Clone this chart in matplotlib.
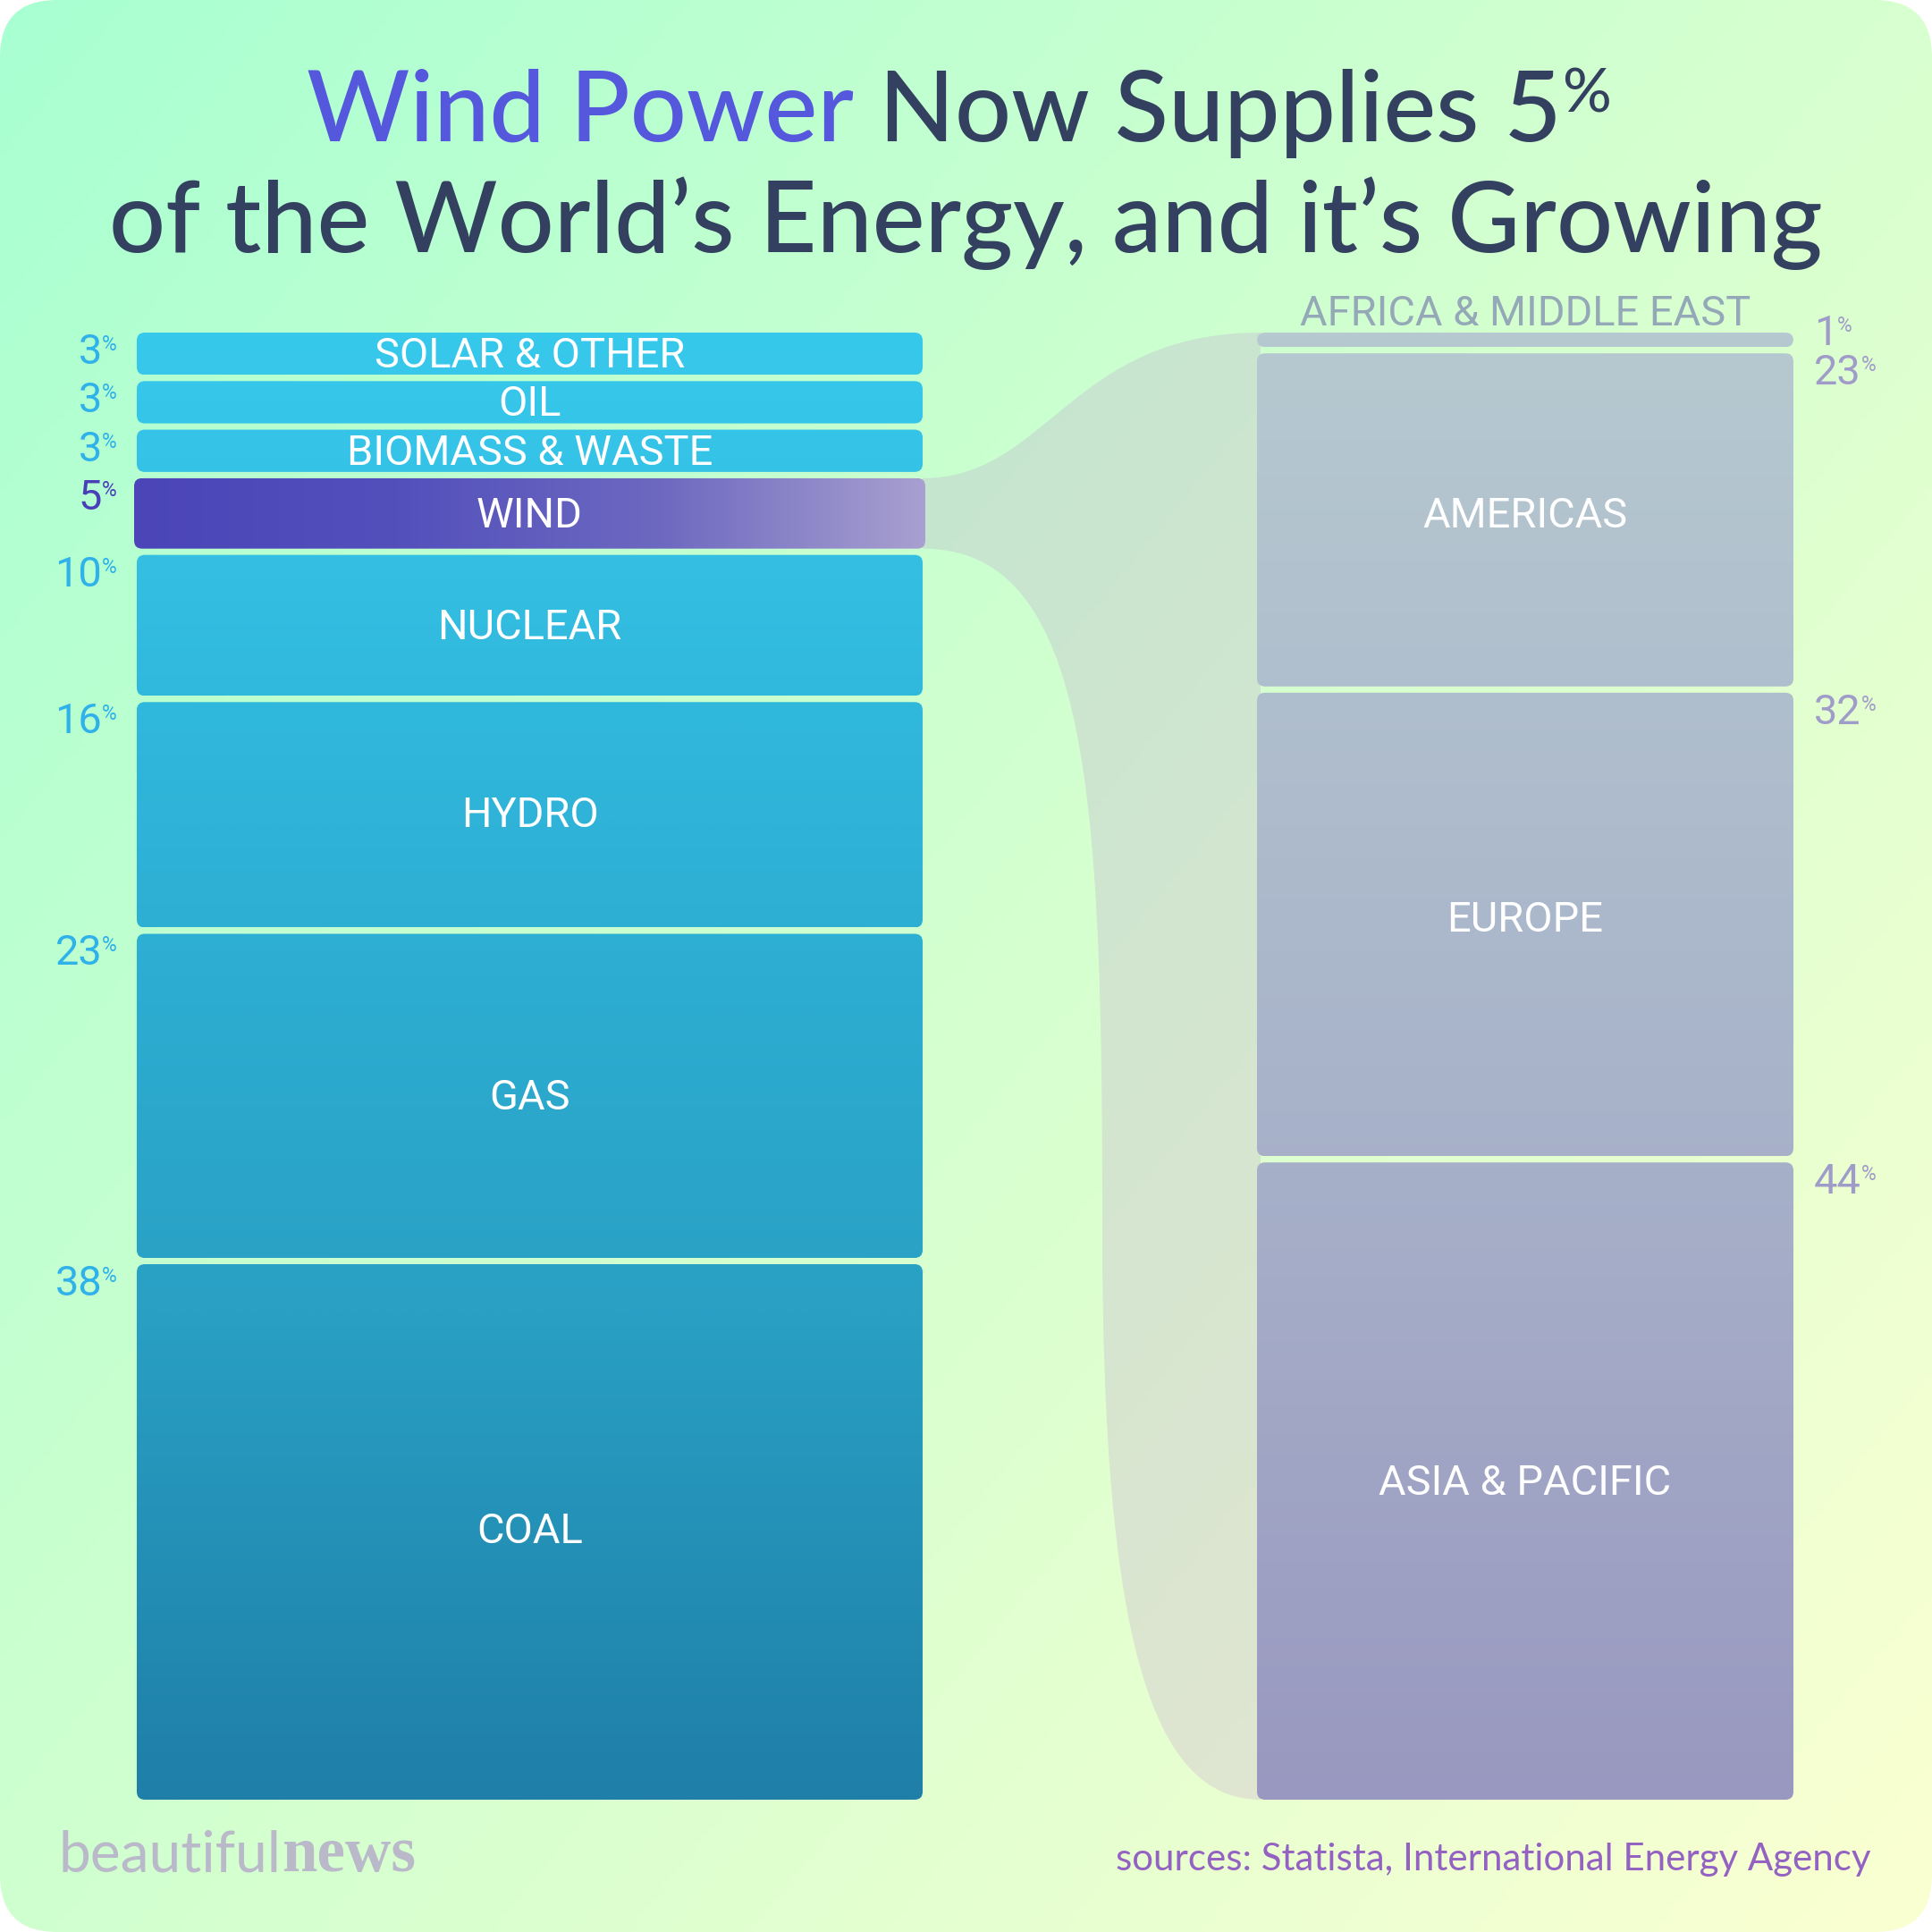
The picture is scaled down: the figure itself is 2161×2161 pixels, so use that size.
import numpy as np
import matplotlib
matplotlib.use("Agg")
import matplotlib.pyplot as plt
from matplotlib.colors import LinearSegmentedColormap
from matplotlib.patches import FancyBboxPatch, PathPatch
from matplotlib.path import Path

# Data
energy_labels = ["SOLAR & OTHER", "OIL", "BIOMASS & WASTE", "WIND", "NUCLEAR", "HYDRO", "GAS", "COAL"]
energy_shares = [3, 3, 3, 5, 10, 16, 23, 38]
region_labels = ["AFRICA & MIDDLE EAST", "AMERICAS", "EUROPE", "ASIA & PACIFIC"]
region_shares = [1, 23, 32, 44]

# Layout in pixels
W = 2161
TOP, BOTTOM = 372, 2013
GAP = 7
LEFT_X = (153, 1032)
RIGHT_X = (1406, 2006)
NARROW = "Roboto"
TITLE_FONT = "Lato"

bg_cmap = LinearSegmentedColormap.from_list("bg", ["#a8ffd2", "#d4ffcf", "#fbffd2"])
left_cmap = LinearSegmentedColormap.from_list("left", ["#37c9ec", "#2fb3d8", "#29a0c4", "#1f7fa8"])
right_cmap = LinearSegmentedColormap.from_list("right", ["#b6c9d0", "#a9b4ca", "#9998c0"])
wind_cmap = LinearSegmentedColormap.from_list("wind", ["#4b45b8", "#5350bc", "#6d69c0", "#a8a0d0"])


def px(size):
    return size * 72 / 100


# Tops and bottoms of a stack, from the shares
def stack(shares):
    scale = (BOTTOM - TOP - GAP * (len(shares) - 1)) / sum(shares)
    heights = np.array(shares) * scale
    tops = TOP + np.cumsum(np.r_[0, heights[:-1]]) + GAP * np.arange(len(shares))
    return tops, tops + heights


def gradient_box(x0, x1, y0, y1, cmap, t0=0, t1=1, horizontal=False, radius=9):
    box = FancyBboxPatch((x0, y0), x1 - x0, y1 - y0, boxstyle=f"round,pad=0,rounding_size={radius}",
                         fc="none", ec="none", zorder=3)
    ax.add_patch(box)
    g = np.linspace(t0, t1, 256)
    g = g.reshape(1, -1) if horizontal else g.reshape(-1, 1)
    im = ax.imshow(g, cmap=cmap, vmin=0, vmax=1, extent=(x0, x1, y1, y0), aspect="auto", zorder=3)
    im.set_clip_path(box)


fig = plt.figure(figsize=(W / 100, W / 100), dpi=100, facecolor="white")
ax = fig.add_axes([0, 0, 1, 1])
ax.axis("off")
renderer = fig.canvas.get_renderer()

# Background with round corners
bg_box = FancyBboxPatch((0, 0), W, W, boxstyle="round,pad=0,rounding_size=64", fc="none", ec="none")
ax.add_patch(bg_box)
xx, yy = np.meshgrid(np.linspace(0, 1, 300), np.linspace(0, 1, 300))
bg = ax.imshow(0.55 * xx + 0.45 * yy, cmap=bg_cmap, vmin=0, vmax=1, extent=(0, W, W, 0), aspect="auto", zorder=0)
bg.set_clip_path(bg_box)

left_tops, left_bottoms = stack(energy_shares)
right_tops, right_bottoms = stack(region_shares)
wind = energy_labels.index("WIND")

# Flow from the wind bar to the regions
fx0, fx1 = LEFT_X[1], RIGHT_X[0] + 4
wt, wb = left_tops[wind], left_bottoms[wind]
verts = [
    (fx0, wt),
    (fx0 + 140, wt), (fx0 + 165, TOP), (fx1, TOP),
    (fx1, BOTTOM),
    (fx0 + 256, BOTTOM), (fx0 + 201, BOTTOM - 180), (fx0 + 201, 1378),
    (fx0 + 201, 900), (fx0 + 190, wb), (fx0, wb),
    (fx0, wt),
]
codes = [Path.MOVETO, Path.CURVE4, Path.CURVE4, Path.CURVE4, Path.LINETO,
         Path.CURVE4, Path.CURVE4, Path.CURVE4, Path.CURVE4, Path.CURVE4, Path.CURVE4, Path.CLOSEPOLY]
ax.add_patch(PathPatch(Path(verts, codes), fc=(185 / 255, 125 / 255, 211 / 255), ec="none", alpha=0.2, zorder=1))

LABEL_SIZE = 47
CAP = 31
PCT_SIZE = 47
DIGIT = 35
label_nudge = {"AMERICAS": -7, "EUROPE": -7, "COAL": -3, "HYDRO": -2}


def pct_left(right_x, top, value, color):
    # small percent sign first, number to the left of it
    sign = ax.text(right_x, top + 20, "%", color=color, fontsize=px(23), family=NARROW,
                   ha="right", va="baseline", zorder=4)
    w = sign.get_window_extent(renderer).width
    ax.text(right_x - w, top + DIGIT, str(value), color=color, fontsize=px(PCT_SIZE), family=NARROW,
            ha="right", va="baseline", zorder=4)


def pct_right(left_x, top, value, color):
    num = ax.text(left_x, top + DIGIT, str(value), color=color, fontsize=px(PCT_SIZE), family=NARROW,
                  ha="left", va="baseline", zorder=4)
    w = num.get_window_extent(renderer).width
    ax.text(left_x + w, top + 20, "%", color=color, fontsize=px(23), family=NARROW,
            ha="left", va="baseline", zorder=4)


# Energy mix
span = BOTTOM - TOP
for label, share, y0, y1 in zip(energy_labels, energy_shares, left_tops, left_bottoms):
    if label == "WIND":
        gradient_box(LEFT_X[0] - 3, LEFT_X[1] + 3, y0, y1, wind_cmap, horizontal=True)
        pct_color = "#4a3fb8"
    else:
        gradient_box(LEFT_X[0], LEFT_X[1], y0, y1, left_cmap, (y0 - TOP) / span, (y1 - TOP) / span)
        pct_color = "#2fb1e9"
    ax.text(sum(LEFT_X) / 2, (y0 + y1) / 2 + CAP / 2 + label_nudge.get(label, 0), label, color="white",
            fontsize=px(LABEL_SIZE), family=NARROW, ha="center", va="baseline", zorder=5)
    pct_left(131, y0, share, pct_color)

# Wind by region
for label, share, y0, y1 in zip(region_labels, region_shares, right_tops, right_bottoms):
    gradient_box(RIGHT_X[0], RIGHT_X[1], y0, y1, right_cmap, (y0 - TOP) / span, (y1 - TOP) / span)
    small = y1 - y0 < 40
    if small:
        ax.text(sum(RIGHT_X) / 2, y0 - 8, label, color="#94a8b8", fontsize=px(LABEL_SIZE), family=NARROW,
                ha="center", va="baseline", zorder=5)
    else:
        ax.text(sum(RIGHT_X) / 2, (y0 + y1) / 2 + CAP / 2 + label_nudge.get(label, 0), label, color="white",
                fontsize=px(LABEL_SIZE), family=NARROW, ha="center", va="baseline", zorder=5)
    pct_right(2029, y0 - 21 if small else y0, share, "#a09cc9")

# Title, drawn in pieces so the colours can change
TITLE_BLUE = "#5557dc"
TITLE_DARK = "#34405f"
TITLE_SIZE = 111


def run_width(s, size=TITLE_SIZE):
    t = ax.text(0, 0, s, fontsize=px(size), family=TITLE_FONT, weight="medium")
    w = t.get_window_extent(renderer).width
    t.remove()
    return w


line1 = [("Wind Power ", TITLE_BLUE, TITLE_SIZE, 158), ("Now Supplies 5", TITLE_DARK, TITLE_SIZE, 158), ("%", TITLE_DARK, 68, 126)]
x = W / 2 - sum(run_width(s, size) for s, _, size, _ in line1) / 2 - 8
for s, color, size, base in line1:
    ax.text(x, base, s, color=color, fontsize=px(size), family=TITLE_FONT, weight="medium",
            ha="left", va="baseline", zorder=5)
    x += run_width(s, size)
ax.text(W / 2, 282, "of the World\u2019s Energy, and it\u2019s Growing", color=TITLE_DARK, fontsize=px(TITLE_SIZE),
        family=TITLE_FONT, weight="medium", ha="center", va="baseline", zorder=5)

# Footer
brand = ax.text(66, 2093, "beautiful", color="#b9b9c9", fontsize=px(64), family=TITLE_FONT, ha="left", va="baseline", zorder=5)
bw = brand.get_window_extent(renderer).width
ax.text(66 + bw, 2093, "news", color="#b9b9c9", fontsize=px(71), family="Liberation Serif", weight="bold",
        ha="left", va="baseline", zorder=5)
ax.text(2092, 2092, "sources: Statista, International Energy Agency", color="#9362c2", fontsize=px(42),
        family=TITLE_FONT, ha="right", va="baseline", zorder=5)

ax.set_xlim(0, W)
ax.set_ylim(W, 0)
fig.savefig("out.png", dpi=100, facecolor="white")
